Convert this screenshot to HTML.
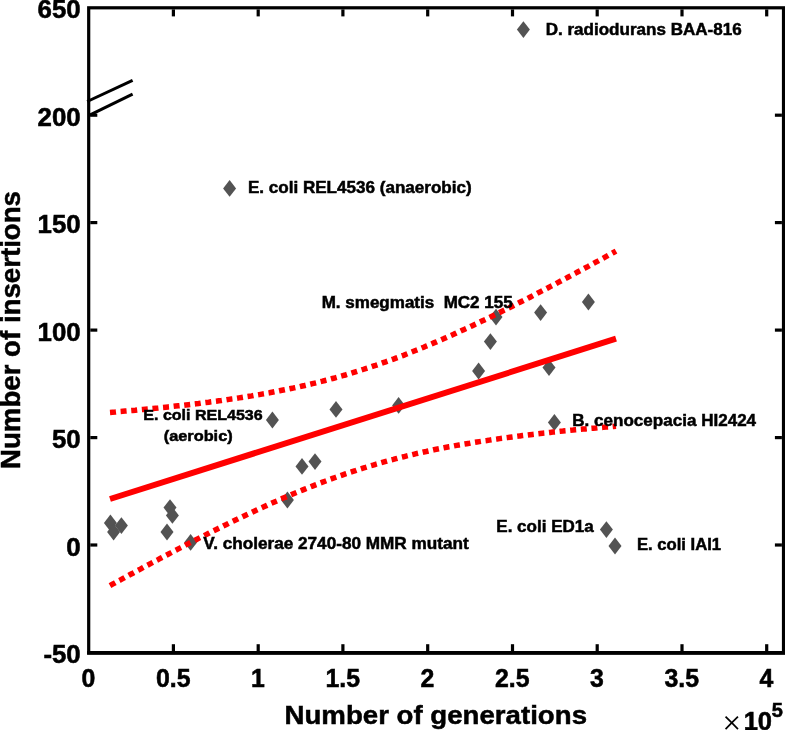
<!DOCTYPE html>
<html lang="en"><head><meta charset="utf-8"><title>Number of insertions vs number of generations</title>
<style>html,body{margin:0;padding:0;background:#fff;}body{width:785px;height:730px;overflow:hidden;}svg{display:block;}text{font-family:"Liberation Sans",Arial,Helvetica,sans-serif;font-weight:bold;fill:#000;}</style>
</head><body>
<svg width="785" height="730" viewBox="0 0 785 730">
<rect x="0" y="0" width="785" height="730" fill="#fff"/>
<g fill="#535353">
<polygon points="110.4,514.6 116.9,523.0 110.4,531.4 103.9,523.0"/>
<polygon points="113.6,523.6 120.1,532.0 113.6,540.4 107.1,532.0"/>
<polygon points="121.4,517.2 127.9,525.6 121.4,534.0 114.9,525.6"/>
<polygon points="170.0,499.2 176.5,507.6 170.0,516.0 163.5,507.6"/>
<polygon points="172.4,507.0 178.9,515.4 172.4,523.8 165.9,515.4"/>
<polygon points="167.0,523.6 173.5,532.0 167.0,540.4 160.5,532.0"/>
<polygon points="190.6,534.0 197.1,542.4 190.6,550.8 184.1,542.4"/>
<polygon points="229.6,180.0 236.1,188.4 229.6,196.8 223.1,188.4"/>
<polygon points="272.4,411.6 278.9,420.0 272.4,428.4 265.9,420.0"/>
<polygon points="287.4,491.6 293.9,500.0 287.4,508.4 280.9,500.0"/>
<polygon points="302.0,458.0 308.5,466.4 302.0,474.8 295.5,466.4"/>
<polygon points="315.0,453.2 321.5,461.6 315.0,470.0 308.5,461.6"/>
<polygon points="336.0,401.0 342.5,409.4 336.0,417.8 329.5,409.4"/>
<polygon points="398.6,397.0 405.1,405.4 398.6,413.8 392.1,405.4"/>
<polygon points="478.6,362.6 485.1,371.0 478.6,379.4 472.1,371.0"/>
<polygon points="490.4,333.2 496.9,341.6 490.4,350.0 483.9,341.6"/>
<polygon points="496.0,308.7 502.5,317.1 496.0,325.5 489.5,317.1"/>
<polygon points="540.6,304.2 547.1,312.6 540.6,321.0 534.1,312.6"/>
<polygon points="549.0,359.2 555.5,367.6 549.0,376.0 542.5,367.6"/>
<polygon points="554.4,414.0 560.9,422.4 554.4,430.8 547.9,422.4"/>
<polygon points="588.4,293.6 594.9,302.0 588.4,310.4 581.9,302.0"/>
<polygon points="606.4,521.2 612.9,529.6 606.4,538.0 599.9,529.6"/>
<polygon points="615.0,537.6 621.5,546.0 615.0,554.4 608.5,546.0"/>
<polygon points="523.4,21.2 529.9,29.6 523.4,38.0 516.9,29.6"/>
</g>
<line x1="110.0" y1="499.0" x2="616.0" y2="338.7" stroke="#ff0000" stroke-width="6"/>
<polyline points="110.0,412.4 112.5,412.2 115.1,412.0 117.6,411.7 120.1,411.5 122.7,411.3 125.2,411.1 127.7,410.9 130.2,410.6 132.8,410.4 135.3,410.2 137.8,409.9 140.4,409.7 142.9,409.5 145.4,409.2 147.9,409.0 150.5,408.7 153.0,408.5 155.5,408.2 158.1,408.0 160.6,407.7 163.1,407.5 165.7,407.2 168.2,406.9 170.7,406.7 173.2,406.4 175.8,406.1 178.3,405.8 180.8,405.5 183.4,405.3 185.9,405.0 188.4,404.7 191.0,404.4 193.5,404.1 196.0,403.8 198.6,403.5 201.1,403.1 203.6,402.8 206.1,402.5 208.7,402.2 211.2,401.8 213.7,401.5 216.3,401.2 218.8,400.8 221.3,400.5 223.8,400.1 226.4,399.8 228.9,399.4 231.4,399.0 234.0,398.7 236.5,398.3 239.0,397.9 241.6,397.5 244.1,397.1 246.6,396.7 249.2,396.3 251.7,395.9 254.2,395.4 256.7,395.0 259.3,394.6 261.8,394.1 264.3,393.7 266.9,393.2 269.4,392.8 271.9,392.3 274.4,391.8 277.0,391.3 279.5,390.8 282.0,390.3 284.6,389.8 287.1,389.3 289.6,388.8 292.2,388.3 294.7,387.7 297.2,387.2 299.8,386.6 302.3,386.0 304.8,385.5 307.3,384.9 309.9,384.3 312.4,383.7 314.9,383.1 317.5,382.5 320.0,381.8 322.5,381.2 325.1,380.5 327.6,379.9 330.1,379.2 332.6,378.5 335.2,377.8 337.7,377.1 340.2,376.4 342.8,375.7 345.3,375.0 347.8,374.2 350.4,373.5 352.9,372.7 355.4,371.9 357.9,371.1 360.5,370.3 363.0,369.5 365.5,368.7 368.1,367.9 370.6,367.1 373.1,366.2 375.6,365.4 378.2,364.5 380.7,363.6 383.2,362.7 385.8,361.8 388.3,360.9 390.8,360.0 393.4,359.1 395.9,358.1 398.4,357.2 400.9,356.2 403.5,355.3 406.0,354.3 408.5,353.3 411.1,352.3 413.6,351.3 416.1,350.3 418.7,349.3 421.2,348.2 423.7,347.2 426.2,346.1 428.8,345.1 431.3,344.0 433.8,342.9 436.4,341.9 438.9,340.8 441.4,339.7 444.0,338.6 446.5,337.4 449.0,336.3 451.6,335.2 454.1,334.1 456.6,332.9 459.1,331.8 461.7,330.6 464.2,329.4 466.7,328.3 469.3,327.1 471.8,325.9 474.3,324.7 476.9,323.5 479.4,322.3 481.9,321.1 484.4,319.9 487.0,318.7 489.5,317.4 492.0,316.2 494.6,315.0 497.1,313.7 499.6,312.5 502.1,311.2 504.7,310.0 507.2,308.7 509.7,307.5 512.3,306.2 514.8,304.9 517.3,303.6 519.9,302.3 522.4,301.1 524.9,299.8 527.5,298.5 530.0,297.2 532.5,295.9 535.0,294.6 537.6,293.2 540.1,291.9 542.6,290.6 545.2,289.3 547.7,288.0 550.2,286.6 552.8,285.3 555.3,284.0 557.8,282.6 560.3,281.3 562.9,279.9 565.4,278.6 567.9,277.3 570.5,275.9 573.0,274.5 575.5,273.2 578.0,271.8 580.6,270.5 583.1,269.1 585.6,267.7 588.2,266.4 590.7,265.0 593.2,263.6 595.8,262.2 598.3,260.9 600.8,259.5 603.4,258.1 605.9,256.7 608.4,255.3 610.9,253.9 613.5,252.5 616.0,251.1" fill="none" stroke="#ff0000" stroke-width="5.5" stroke-dasharray="6 4.655"/>
<polyline points="110.0,585.6 112.5,584.2 115.1,582.8 117.6,581.4 120.1,580.1 122.7,578.7 125.2,577.3 127.7,575.9 130.2,574.5 132.8,573.2 135.3,571.8 137.8,570.4 140.4,569.1 142.9,567.7 145.4,566.3 147.9,565.0 150.5,563.6 153.0,562.3 155.5,560.9 158.1,559.6 160.6,558.2 163.1,556.9 165.7,555.5 168.2,554.2 170.7,552.9 173.2,551.5 175.8,550.2 178.3,548.9 180.8,547.6 183.4,546.3 185.9,544.9 188.4,543.6 191.0,542.3 193.5,541.0 196.0,539.7 198.6,538.4 201.1,537.1 203.6,535.9 206.1,534.6 208.7,533.3 211.2,532.0 213.7,530.8 216.3,529.5 218.8,528.2 221.3,527.0 223.8,525.7 226.4,524.5 228.9,523.2 231.4,522.0 234.0,520.8 236.5,519.6 239.0,518.3 241.6,517.1 244.1,515.9 246.6,514.7 249.2,513.5 251.7,512.4 254.2,511.2 256.7,510.0 259.3,508.8 261.8,507.7 264.3,506.5 266.9,505.4 269.4,504.2 271.9,503.1 274.4,502.0 277.0,500.9 279.5,499.7 282.0,498.6 284.6,497.5 287.1,496.5 289.6,495.4 292.2,494.3 294.7,493.2 297.2,492.2 299.8,491.1 302.3,490.1 304.8,489.1 307.3,488.1 309.9,487.1 312.4,486.1 314.9,485.1 317.5,484.1 320.0,483.1 322.5,482.2 325.1,481.2 327.6,480.3 330.1,479.3 332.6,478.4 335.2,477.5 337.7,476.6 340.2,475.7 342.8,474.8 345.3,473.9 347.8,473.1 350.4,472.2 352.9,471.4 355.4,470.6 357.9,469.7 360.5,468.9 363.0,468.1 365.5,467.4 368.1,466.6 370.6,465.8 373.1,465.1 375.6,464.3 378.2,463.6 380.7,462.8 383.2,462.1 385.8,461.4 388.3,460.7 390.8,460.0 393.4,459.4 395.9,458.7 398.4,458.0 400.9,457.4 403.5,456.8 406.0,456.1 408.5,455.5 411.1,454.9 413.6,454.3 416.1,453.7 418.7,453.1 421.2,452.6 423.7,452.0 426.2,451.5 428.8,450.9 431.3,450.4 433.8,449.8 436.4,449.3 438.9,448.8 441.4,448.3 444.0,447.8 446.5,447.3 449.0,446.8 451.6,446.4 454.1,445.9 456.6,445.4 459.1,445.0 461.7,444.6 464.2,444.1 466.7,443.7 469.3,443.3 471.8,442.8 474.3,442.4 476.9,442.0 479.4,441.6 481.9,441.2 484.4,440.8 487.0,440.5 489.5,440.1 492.0,439.7 494.6,439.3 497.1,439.0 499.6,438.6 502.1,438.3 504.7,437.9 507.2,437.6 509.7,437.2 512.3,436.9 514.8,436.6 517.3,436.3 519.9,435.9 522.4,435.6 524.9,435.3 527.5,435.0 530.0,434.7 532.5,434.4 535.0,434.1 537.6,433.8 540.1,433.5 542.6,433.2 545.2,433.0 547.7,432.7 550.2,432.4 552.8,432.1 555.3,431.9 557.8,431.6 560.3,431.3 562.9,431.1 565.4,430.8 567.9,430.6 570.5,430.3 573.0,430.1 575.5,429.8 578.0,429.6 580.6,429.3 583.1,429.1 585.6,428.9 588.2,428.6 590.7,428.4 593.2,428.2 595.8,428.0 598.3,427.7 600.8,427.5 603.4,427.3 605.9,427.1 608.4,426.9 610.9,426.7 613.5,426.4 616.0,426.2" fill="none" stroke="#ff0000" stroke-width="5.5" stroke-dasharray="6 4.662"/>
<g stroke="#000" stroke-width="3.2" fill="none" stroke-linecap="butt">
<rect x="88.7" y="7.8" width="694.8" height="645.05"/>
<line x1="87.1" y1="652.85" x2="785.1" y2="652.85" stroke-width="3.7"/>
<line x1="173.4" y1="651.2" x2="173.4" y2="644.2"/>
<line x1="173.4" y1="9.4" x2="173.4" y2="16.4"/>
<line x1="258.2" y1="651.2" x2="258.2" y2="644.2"/>
<line x1="258.2" y1="9.4" x2="258.2" y2="16.4"/>
<line x1="342.9" y1="651.2" x2="342.9" y2="644.2"/>
<line x1="342.9" y1="9.4" x2="342.9" y2="16.4"/>
<line x1="427.7" y1="651.2" x2="427.7" y2="644.2"/>
<line x1="427.7" y1="9.4" x2="427.7" y2="16.4"/>
<line x1="512.5" y1="651.2" x2="512.5" y2="644.2"/>
<line x1="512.5" y1="9.4" x2="512.5" y2="16.4"/>
<line x1="597.2" y1="651.2" x2="597.2" y2="644.2"/>
<line x1="597.2" y1="9.4" x2="597.2" y2="16.4"/>
<line x1="682.0" y1="651.2" x2="682.0" y2="644.2"/>
<line x1="682.0" y1="9.4" x2="682.0" y2="16.4"/>
<line x1="766.7" y1="651.2" x2="766.7" y2="644.2"/>
<line x1="766.7" y1="9.4" x2="766.7" y2="16.4"/>
<line x1="90.3" y1="545.0" x2="97.3" y2="545.0"/>
<line x1="781.9" y1="545.0" x2="774.9" y2="545.0"/>
<line x1="90.3" y1="437.6" x2="97.3" y2="437.6"/>
<line x1="781.9" y1="437.6" x2="774.9" y2="437.6"/>
<line x1="90.3" y1="330.1" x2="97.3" y2="330.1"/>
<line x1="781.9" y1="330.1" x2="774.9" y2="330.1"/>
<line x1="90.3" y1="222.6" x2="97.3" y2="222.6"/>
<line x1="781.9" y1="222.6" x2="774.9" y2="222.6"/>
<line x1="90.3" y1="115.2" x2="97.3" y2="115.2"/>
<line x1="781.9" y1="115.2" x2="774.9" y2="115.2"/>
<line x1="87.2" y1="101.5" x2="132.6" y2="80.4" stroke-width="3"/>
<line x1="88.6" y1="115.6" x2="132.6" y2="94.2" stroke-width="3"/>
</g>
<text x="37.6" y="18.3" font-size="25.5" text-anchor="start" textLength="43.1" lengthAdjust="spacingAndGlyphs" stroke="#000" stroke-width="0.55">650</text>
<text x="37.6" y="125.7" font-size="25.5" text-anchor="start" textLength="43.1" lengthAdjust="spacingAndGlyphs" stroke="#000" stroke-width="0.55">200</text>
<text x="37.6" y="233.1" font-size="25.5" text-anchor="start" textLength="43.1" lengthAdjust="spacingAndGlyphs" stroke="#000" stroke-width="0.55">150</text>
<text x="37.6" y="340.6" font-size="25.5" text-anchor="start" textLength="43.1" lengthAdjust="spacingAndGlyphs" stroke="#000" stroke-width="0.55">100</text>
<text x="52.0" y="448.1" font-size="25.5" text-anchor="start" textLength="28.7" lengthAdjust="spacingAndGlyphs" stroke="#000" stroke-width="0.55">50</text>
<text x="66.3" y="555.5" font-size="25.5" text-anchor="start" textLength="14.4" lengthAdjust="spacingAndGlyphs" stroke="#000" stroke-width="0.55">0</text>
<text x="43.4" y="663.4" font-size="25.5" text-anchor="start" textLength="37.3" lengthAdjust="spacingAndGlyphs" stroke="#000" stroke-width="0.55">-50</text>
<text x="81.5" y="687.2" font-size="25.5" text-anchor="start" textLength="13.8" lengthAdjust="spacingAndGlyphs" stroke="#000" stroke-width="0.55">0</text>
<text x="155.9" y="687.2" font-size="25.5" text-anchor="start" textLength="34.6" lengthAdjust="spacingAndGlyphs" stroke="#000" stroke-width="0.55">0.5</text>
<text x="251.0" y="687.2" font-size="25.5" text-anchor="start" textLength="13.8" lengthAdjust="spacingAndGlyphs" stroke="#000" stroke-width="0.55">1</text>
<text x="325.4" y="687.2" font-size="25.5" text-anchor="start" textLength="34.6" lengthAdjust="spacingAndGlyphs" stroke="#000" stroke-width="0.55">1.5</text>
<text x="420.5" y="687.2" font-size="25.5" text-anchor="start" textLength="13.8" lengthAdjust="spacingAndGlyphs" stroke="#000" stroke-width="0.55">2</text>
<text x="494.9" y="687.2" font-size="25.5" text-anchor="start" textLength="34.6" lengthAdjust="spacingAndGlyphs" stroke="#000" stroke-width="0.55">2.5</text>
<text x="590.0" y="687.2" font-size="25.5" text-anchor="start" textLength="13.8" lengthAdjust="spacingAndGlyphs" stroke="#000" stroke-width="0.55">3</text>
<text x="664.4" y="687.2" font-size="25.5" text-anchor="start" textLength="34.6" lengthAdjust="spacingAndGlyphs" stroke="#000" stroke-width="0.55">3.5</text>
<text x="759.5" y="687.2" font-size="25.5" text-anchor="start" textLength="13.8" lengthAdjust="spacingAndGlyphs" stroke="#000" stroke-width="0.55">4</text>
<text x="721.3" y="730" font-size="21" style="font-family:'Noto Sans CJK JP','DejaVu Sans',sans-serif;font-weight:500">×</text>
<text x="743.7" y="729.7" font-size="25.5" text-anchor="start" stroke="#000" stroke-width="0.55">10</text>
<text x="771.7" y="716.7" font-size="20.0" text-anchor="start" stroke="#000" stroke-width="0.55">5</text>
<text x="284.5" y="724.0" font-size="26.0" text-anchor="start" textLength="302.5" lengthAdjust="spacingAndGlyphs" stroke="#000" stroke-width="0.5">Number of generations</text>
<text transform="translate(20.2,469) rotate(-90)" x="0" y="0" font-size="27.6" textLength="278" lengthAdjust="spacingAndGlyphs" stroke="#000" stroke-width="0.5">Number of insertions</text>
<text x="545.7" y="34.9" font-size="16.4" text-anchor="start" textLength="196.0" lengthAdjust="spacingAndGlyphs" stroke="#000" stroke-width="0.5">D. radiodurans BAA-816</text>
<text x="247.9" y="193.4" font-size="16.4" text-anchor="start" textLength="223.8" lengthAdjust="spacingAndGlyphs" stroke="#000" stroke-width="0.5">E. coli REL4536 (anaerobic)</text>
<text x="321.7" y="307.9" font-size="15.6" text-anchor="start" textLength="191.0" lengthAdjust="spacingAndGlyphs" stroke="#000" stroke-width="0.5">M. smegmatis  MC2 155</text>
<text x="143.3" y="420.3" font-size="15.5" text-anchor="start" textLength="119.4" lengthAdjust="spacingAndGlyphs" stroke="#000" stroke-width="0.5">E. coli REL4536</text>
<text x="163.7" y="440.9" font-size="15.5" text-anchor="start" textLength="69.0" lengthAdjust="spacingAndGlyphs" stroke="#000" stroke-width="0.5">(aerobic)</text>
<text x="203.3" y="548.9" font-size="16.4" text-anchor="start" textLength="265.4" lengthAdjust="spacingAndGlyphs" stroke="#000" stroke-width="0.5">V. cholerae 2740-80 MMR mutant</text>
<text x="572.3" y="425.5" font-size="16.4" text-anchor="start" textLength="183.8" lengthAdjust="spacingAndGlyphs" stroke="#000" stroke-width="0.5">B. cenocepacia HI2424</text>
<text x="496.3" y="531.5" font-size="16.4" text-anchor="start" textLength="97.4" lengthAdjust="spacingAndGlyphs" stroke="#000" stroke-width="0.5">E. coli ED1a</text>
<text x="636.9" y="550.3" font-size="16.4" text-anchor="start" textLength="84.2" lengthAdjust="spacingAndGlyphs" stroke="#000" stroke-width="0.5">E. coli IAI1</text>
</svg>
</body></html>
